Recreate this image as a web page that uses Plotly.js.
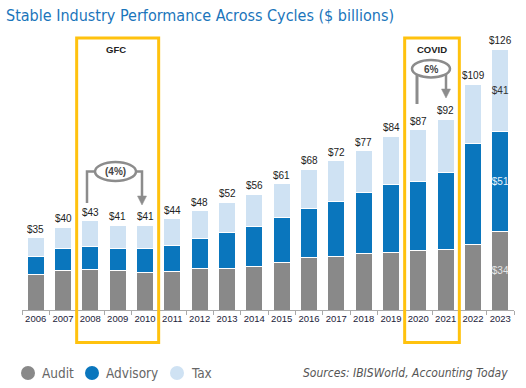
<!DOCTYPE html>
<html>
<head>
<meta charset="utf-8">
<script src="https://cdn.plot.ly/plotly-3.0.1.min.js"></script>
<style>html,body{margin:0;padding:0;background:#fff;}#chart{width:526px;height:388px;}</style>
</head>
<body>
<div id="chart"></div>
<script>
// ---- data ----
var years = ['2006','2007','2008','2009','2010','2011','2012','2013','2014','2015','2016','2017','2018','2019','2020','2021','2022','2023'];
var audit    = [17, 19, 19.5, 19, 18.3, 18.5, 20, 20, 21, 23, 25.3, 26, 27.5, 28, 28.5, 29.2, 31.4, 38];
var advisory = [9, 10.5, 11, 10.5, 11.2, 12.8, 14.5, 17.5, 19.3, 21.5, 23.8, 26.3, 29.2, 32.5, 33.6, 37.4, 48.8, 48];
var tax      = [9, 10.5, 12.5, 11.5, 11.5, 12.7, 13.5, 14.5, 15.7, 16.5, 18.9, 19.7, 20.3, 23.5, 24.9, 25.4, 28.8, 40];
var totalLabels = ['$35','$40','$43','$41','$41','$44','$48','$52','$56','$61','$68','$72','$77','$84','$87','$92','$109','$126'];
var auditText    = ['','','','','','','','','','','','','','','','','','$34'];
var advisoryText = ['','','','','','','','','','','','','','','','','','$51'];
var taxText      = ['','','','','','','','','','','','','','','','','','$41'];
var seriesNames = ['Audit','Advisory','Tax'];
var gfcLabel = 'GFC', gfcChange = '(4%)';
var covidLabel = 'COVID', covidChange = '6%';
var sourceText = 'Sources: IBISWorld, Accounting Today';
var titleText = 'Stable Industry Performance Across Cycles ($ billions)';

// ---- style ----
var colors = ['#898989', '#0a76bd', '#cfe2f3'];
var W = 526, H = 388, ML = 22, MR = 12, MT = 20, MB = 78;
var PW = W - ML - MR, PH = H - MT - MB;
var narrow = '"DejaVu Sans Condensed", "Liberation Sans", sans-serif';
var arial = '"Liberation Sans", Arial, sans-serif';
function fx(px){ return (px - ML) / PW; }
function fy(py){ return (H - MB - py) / PH; }
function catPx(i){ return ML + PW * (i + 0.5) / years.length; }

var segs = [audit, advisory, tax];
var segText = [auditText, advisoryText, taxText];
var segTextColor = ['#e6e6e6', '#e8f2fb', '#333333'];
var traces = segs.map(function(vals, k){
  return {
    type: 'bar', x: years, y: vals, name: seriesNames[k],
    marker: {color: colors[k], line: {color: '#ffffff', width: 1}},
    text: segText[k], textposition: 'inside', insidetextanchor: 'middle', textangle: 0, constraintext: 'none',
    textfont: {family: arial, size: 10, color: segTextColor[k]},
    hoverinfo: 'skip', showlegend: false, cliponaxis: false
  };
});

var annotations = [];
years.forEach(function(yr, i){
  var tot = audit[i] + advisory[i] + tax[i];
  annotations.push({x: i, y: tot, xref: 'x', yref: 'y', text: totalLabels[i], showarrow: false,
    xanchor: 'center', yanchor: 'bottom', yshift: 1, font: {family: arial, size: 10, color: '#222222'}});
});

var shapes = [];
var yellow = '#ffc20e', grayA = '#8c8c8c';
function box(i0, i1){
  var x0 = catPx(i0) - PW / years.length / 2, x1 = catPx(i1) + PW / years.length / 2;
  shapes.push({type: 'rect', xref: 'paper', yref: 'paper', x0: fx(x0), x1: fx(x1), y0: fy(342.5), y1: fy(38),
    line: {color: yellow, width: 3}, fillcolor: 'rgba(0,0,0,0)', layer: 'above'});
  return (x0 + x1) / 2;
}
var gfcC = box(2, 4);
var covC = box(14, 15);
function note(px, py, txt, size, color){
  annotations.push({xref: 'paper', yref: 'paper', x: fx(px), y: fy(py), xanchor: 'center', yanchor: 'middle',
    text: txt, showarrow: false, font: {family: arial, size: size, color: color}});
}
note(gfcC - 1.5, 49.5, '<b>' + gfcLabel + '</b>', 9.5, '#222222');
note(covC, 49.5, '<b>' + covidLabel + '</b>', 9.5, '#222222');

function pathPx(pts, close){
  var s = pts.map(function(p, j){ return (j ? 'L' : 'M') + fx(p[0]) + ',' + fy(p[1]); }).join(' ');
  return s + (close ? ' Z' : '');
}
// GFC bracket
shapes.push({type: 'path', xref: 'paper', yref: 'paper', path: pathPx([[87, 203], [87, 171.5], [95, 171.5]]),
  line: {color: grayA, width: 2.5}, layer: 'above'});
shapes.push({type: 'path', xref: 'paper', yref: 'paper', path: pathPx([[136, 171.5], [142, 171.5], [142, 197]]),
  line: {color: grayA, width: 2.5}, layer: 'above'});
shapes.push({type: 'path', xref: 'paper', yref: 'paper', path: pathPx([[137.5, 196], [146.5, 196], [142, 205]], true),
  line: {color: grayA, width: 0.5}, fillcolor: grayA, layer: 'above'});
shapes.push({type: 'circle', xref: 'paper', yref: 'paper', x0: fx(95), x1: fx(136), y0: fy(181), y1: fy(162),
  line: {color: grayA, width: 2.5}, fillcolor: '#ffffff', layer: 'above'});
note(115.5, 171.5, '<b>' + gfcChange + '</b>', 10, '#444444');
// COVID bracket
shapes.push({type: 'path', xref: 'paper', yref: 'paper', path: pathPx([[417, 74], [417, 104]]),
  line: {color: grayA, width: 3}, layer: 'above'});
shapes.push({type: 'path', xref: 'paper', yref: 'paper', path: pathPx([[446, 73], [446, 90]]),
  line: {color: grayA, width: 2.5}, layer: 'above'});
shapes.push({type: 'path', xref: 'paper', yref: 'paper', path: pathPx([[441.5, 89], [450.5, 89], [446, 98]], true),
  line: {color: grayA, width: 0.5}, fillcolor: grayA, layer: 'above'});
shapes.push({type: 'circle', xref: 'paper', yref: 'paper', x0: fx(412), x1: fx(450), y0: fy(77.5), y1: fy(60),
  line: {color: grayA, width: 2.5}, fillcolor: '#ffffff', layer: 'above'});
note(431, 69, '<b>' + covidChange + '</b>', 10, '#444444');

// legend (circles + labels)
var legX = [28, 92, 177];
seriesNames.forEach(function(nm, k){
  shapes.push({type: 'circle', xref: 'paper', yref: 'paper', x0: fx(legX[k] - 7), x1: fx(legX[k] + 7), y0: fy(380), y1: fy(366),
    line: {width: 0}, fillcolor: colors[k], layer: 'above'});
  annotations.push({xref: 'paper', yref: 'paper', x: fx(legX[k] + 12), y: fy(373), xanchor: 'left', yanchor: 'middle',
    text: nm, showarrow: false, font: {family: narrow, size: 13.5, color: '#666666'}});
});
annotations.push({xref: 'paper', yref: 'paper', x: fx(510), y: fy(373), xanchor: 'right', yanchor: 'middle',
  text: '<i>' + sourceText + '</i>', showarrow: false, font: {family: narrow, size: 12, color: '#555555'}});

var layout = {
  width: W, height: H,
  margin: {l: ML, r: MR, t: MT, b: MB, pad: 0},
  paper_bgcolor: '#ffffff', plot_bgcolor: '#ffffff',
  barmode: 'stack', bargap: 0.37,
  title: {text: titleText, x: 6 / W, xanchor: 'left', xref: 'container', y: 1 - 15 / H, yanchor: 'middle', yref: 'container',
    font: {family: narrow, size: 16, color: '#1a75bb'}},
  xaxis: {type: 'category', range: [-0.5, years.length - 0.5], showline: true, linecolor: '#aaaaaa', linewidth: 1,
    ticks: 'outside', tickson: 'boundaries', ticklen: 4, tickcolor: '#aaaaaa', showgrid: false, zeroline: false,
    tickangle: 0, tickfont: {family: arial, size: 9.5, color: '#1c1c3a'}, fixedrange: true},
  yaxis: {range: [0, 140], visible: false, showgrid: false, zeroline: false, fixedrange: true},
  shapes: shapes, annotations: annotations, showlegend: false
};
Plotly.newPlot('chart', traces, layout, {staticPlot: true, displayModeBar: false});
</script>
</body>
</html>
